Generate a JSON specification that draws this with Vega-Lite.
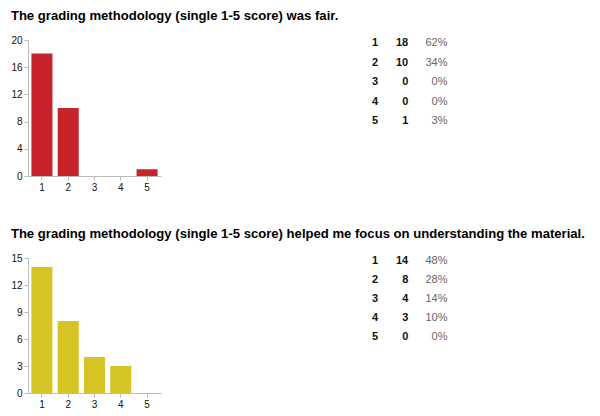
{
  "$schema": "https://vega.github.io/schema/vega-lite/v6.json",
  "background": "white",
  "padding": {"left": 10, "top": 9, "right": 0, "bottom": 0},
  "config": {
    "view": {"stroke": null},
    "font": "Liberation Sans",
    "axis": {
      "domainColor": "#bbbbbb",
      "tickColor": "#bbbbbb",
      "labelColor": "#111111",
      "labelFont": "Liberation Sans",
      "labelFontSize": 10,
      "tickSize": 4,
      "labelPadding": 2,
      "grid": false,
      "title": null
    },
    "title": {
      "font": "Liberation Sans",
      "fontSize": 13.1,
      "fontWeight": "bold",
      "color": "#000000",
      "anchor": "start",
      "frame": "bounds",
      "offset": 12
    }
  },
  "datasets": {
    "fair": [
      {"score": "1", "count": 18, "pct": "62%"},
      {"score": "2", "count": 10, "pct": "34%"},
      {"score": "3", "count": 0, "pct": "0%"},
      {"score": "4", "count": 0, "pct": "0%"},
      {"score": "5", "count": 1, "pct": "3%"}
    ],
    "focus": [
      {"score": "1", "count": 14, "pct": "48%"},
      {"score": "2", "count": 8, "pct": "28%"},
      {"score": "3", "count": 4, "pct": "14%"},
      {"score": "4", "count": 3, "pct": "10%"},
      {"score": "5", "count": 0, "pct": "0%"}
    ]
  },
  "spacing": 35,
  "vconcat": [
    {
      "title": {"text": "The grading methodology (single 1-5 score) was fair."},
      "spacing": 210,
      "hconcat": [
        {
          "data": {"name": "fair"},
          "width": 133,
          "height": 136,
          "mark": {"type": "bar", "color": "#c8232b"},
          "encoding": {
            "x": {"field": "score", "type": "ordinal", "scale": {"paddingInner": 0.2, "paddingOuter": 0.13}, "axis": {"labelAngle": 0}},
            "y": {"field": "count", "type": "quantitative", "scale": {"domain": [0, 20]}, "axis": {"values": [0, 4, 8, 12, 16, 20]}}
          }
        },
        {
          "data": {"name": "fair"},
          "width": 69.5,
          "height": 136,
          "encoding": {
            "y": {"field": "score", "type": "ordinal", "scale": {"type": "point", "padding": 0, "range": [3, 81]}, "axis": null}
          },
          "layer": [
            {
              "mark": {"type": "text", "align": "right", "baseline": "middle", "fontSize": 11, "fontWeight": "bold", "color": "#111111"},
              "encoding": {
                "x": {"datum": "score", "type": "ordinal", "scale": {"type": "point", "domain": ["score", "count", "pct"], "padding": 0}, "axis": null},
                "text": {"field": "score"}
              }
            },
            {
              "mark": {"type": "text", "align": "right", "baseline": "middle", "fontSize": 11, "fontWeight": "bold", "color": "#111111", "dx": -4.5},
              "encoding": {
                "x": {"datum": "count", "type": "ordinal"},
                "text": {"field": "count"}
              }
            },
            {
              "mark": {"type": "text", "align": "right", "baseline": "middle", "fontSize": 11, "color": "#666666"},
              "encoding": {
                "x": {"datum": "pct", "type": "ordinal"},
                "text": {"field": "pct"}
              }
            }
          ]
        }
      ]
    },
    {
      "title": {"text": "The grading methodology (single 1-5 score) helped me focus on understanding the material."},
      "spacing": 210,
      "hconcat": [
        {
          "data": {"name": "focus"},
          "width": 133,
          "height": 135,
          "mark": {"type": "bar", "color": "#d5c423"},
          "encoding": {
            "x": {"field": "score", "type": "ordinal", "scale": {"paddingInner": 0.2, "paddingOuter": 0.13}, "axis": {"labelAngle": 0}},
            "y": {"field": "count", "type": "quantitative", "scale": {"domain": [0, 15]}, "axis": {"values": [0, 3, 6, 9, 12, 15]}}
          }
        },
        {
          "data": {"name": "focus"},
          "width": 69.5,
          "height": 135,
          "encoding": {
            "y": {"field": "score", "type": "ordinal", "scale": {"type": "point", "padding": 0, "range": [3, 79]}, "axis": null}
          },
          "layer": [
            {
              "mark": {"type": "text", "align": "right", "baseline": "middle", "fontSize": 11, "fontWeight": "bold", "color": "#111111"},
              "encoding": {
                "x": {"datum": "score", "type": "ordinal", "scale": {"type": "point", "domain": ["score", "count", "pct"], "padding": 0}, "axis": null},
                "text": {"field": "score"}
              }
            },
            {
              "mark": {"type": "text", "align": "right", "baseline": "middle", "fontSize": 11, "fontWeight": "bold", "color": "#111111", "dx": -4.5},
              "encoding": {
                "x": {"datum": "count", "type": "ordinal"},
                "text": {"field": "count"}
              }
            },
            {
              "mark": {"type": "text", "align": "right", "baseline": "middle", "fontSize": 11, "color": "#666666"},
              "encoding": {
                "x": {"datum": "pct", "type": "ordinal"},
                "text": {"field": "pct"}
              }
            }
          ]
        }
      ]
    }
  ]
}
